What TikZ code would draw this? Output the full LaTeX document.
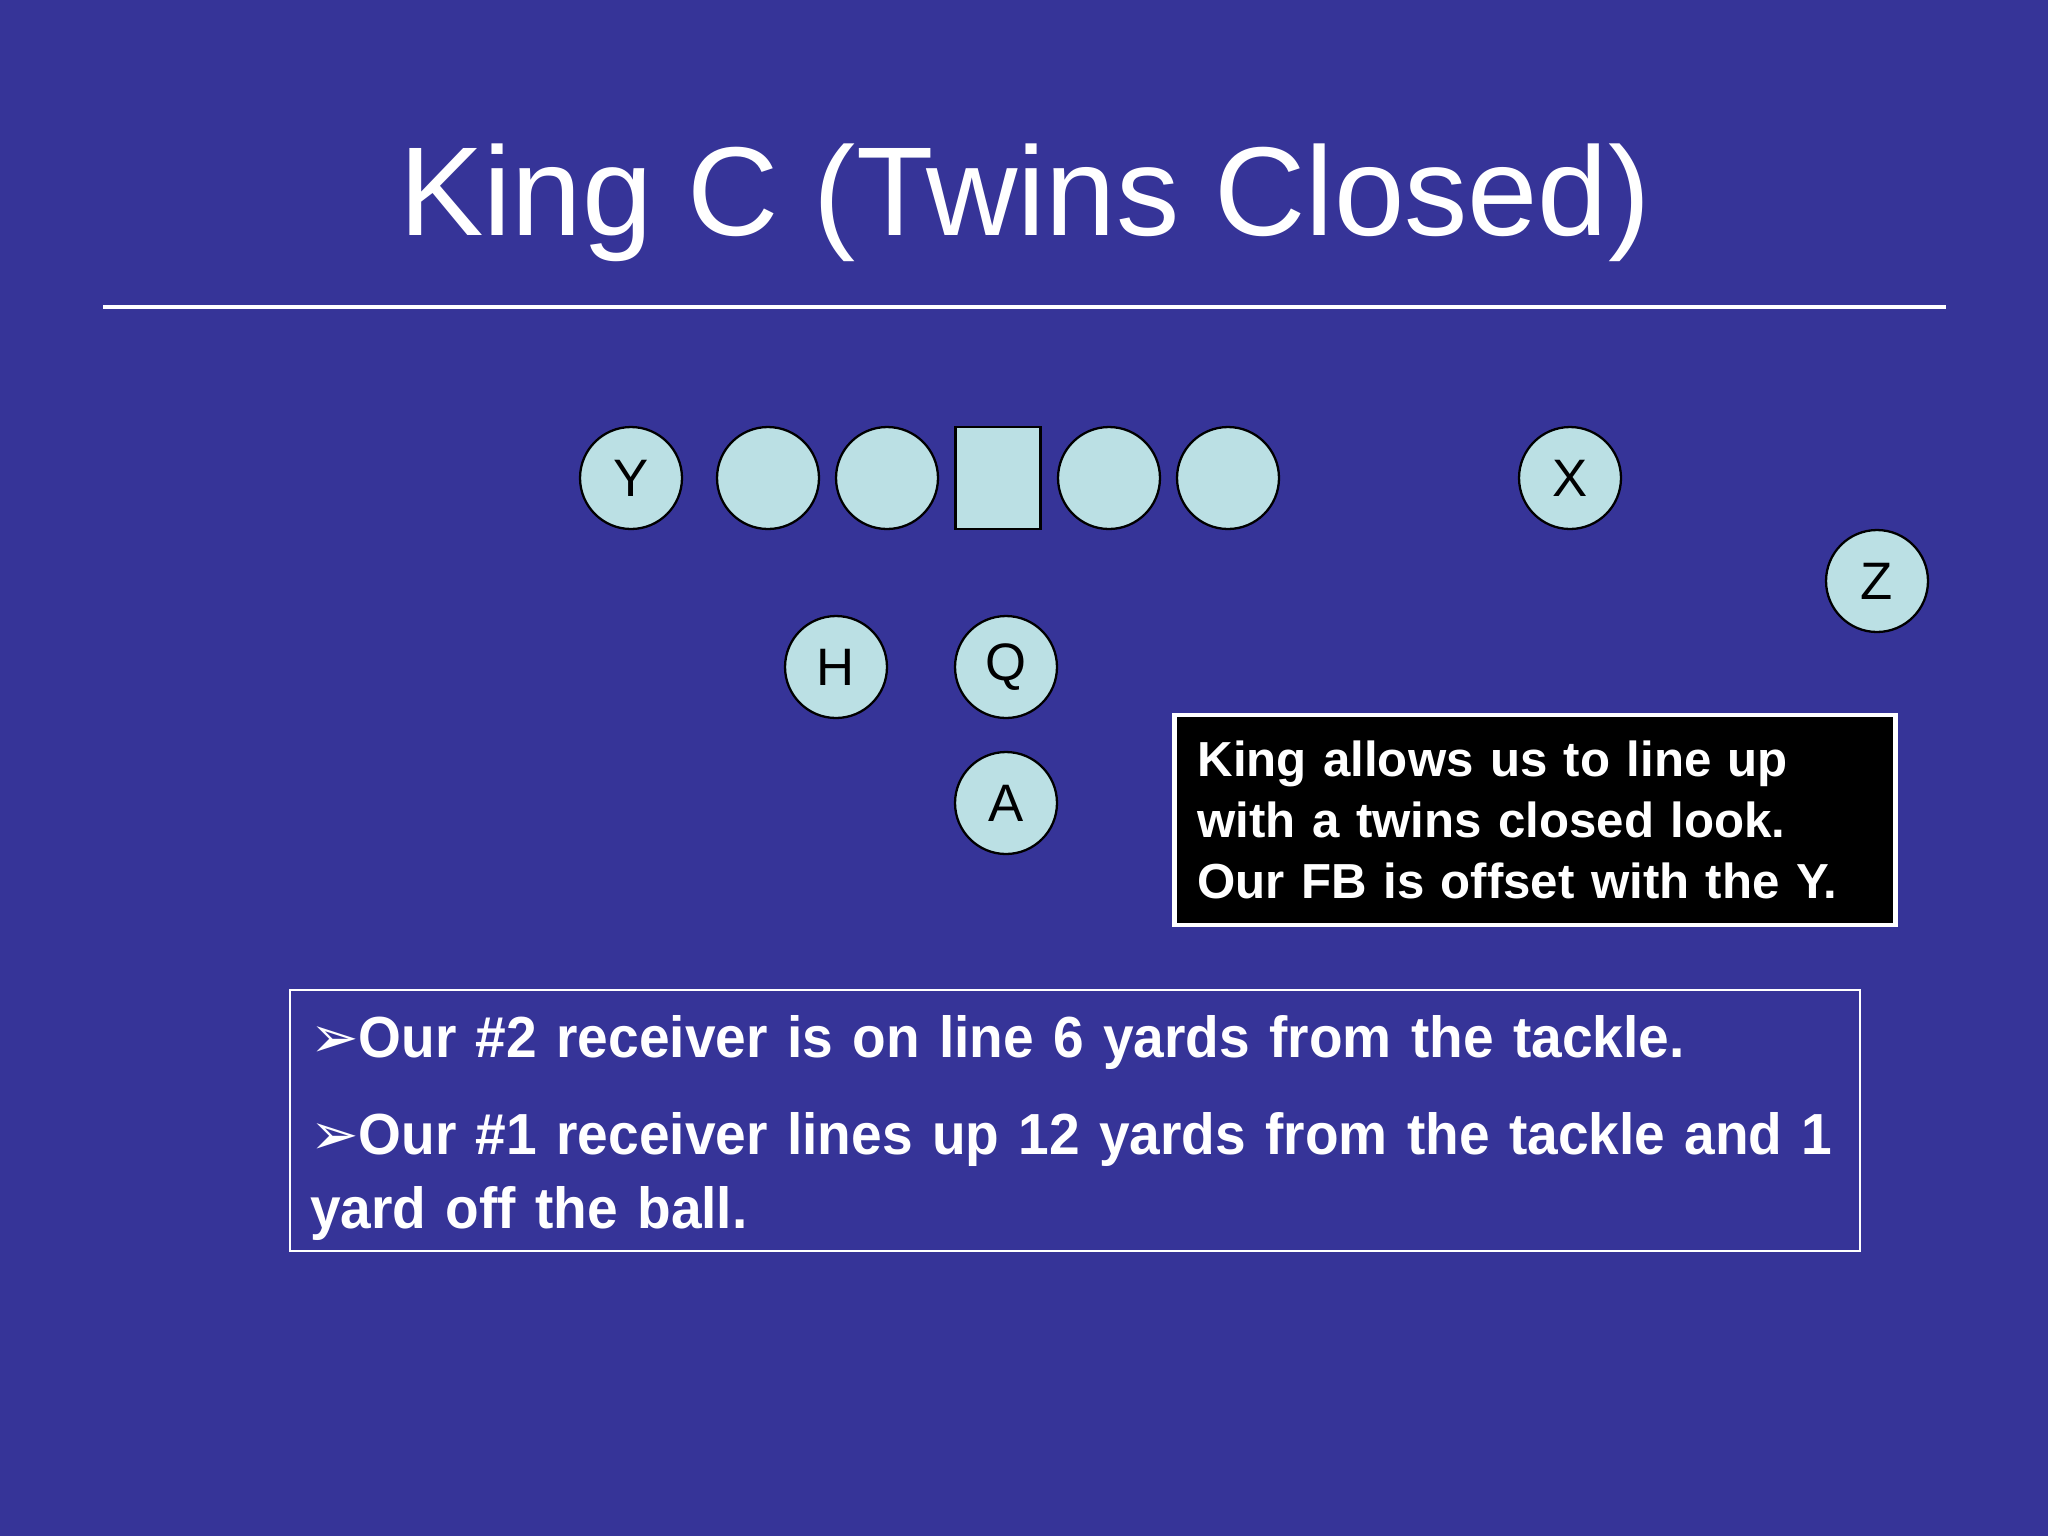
\documentclass[tikz,border=0pt]{standalone}
\usepackage{fontspec}
\setmainfont{Liberation Sans}
\newfontfamily\dingfont{DejaVu Sans}
\newfontfamily\rulefont[FakeStretch=0.95]{Liberation Sans}
\usepackage{tikz}

\definecolor{slideblue}{RGB}{54,52,152}
\definecolor{playerfill}{RGB}{187,224,228}

\tikzset{
  player/.style={circle, draw=black, line width=1.3pt, fill=playerfill,
    minimum size=2.04cm, inner sep=0pt, font=\fontsize{30}{30}\selectfont},
  centerbox/.style={rectangle, draw=black, line width=1.3pt, fill=playerfill,
    minimum width=1.7cm, minimum height=2.04cm, inner sep=0pt},
  notebox/.style={rectangle, draw=white, line width=2.8pt, fill=black,
    text=white, align=left, font=\bfseries\fontsize{28}{34.6}\selectfont,
    inner xsep=0.46cm, text width=13.5cm, minimum height=4.2cm},
  rulebox/.style={rectangle, draw=white, line width=0.8pt, text=white,
    align=left, font=\rulefont\bfseries\fontsize{33}{42}\selectfont,
    inner xsep=0.4cm, text width=30.6cm, minimum height=5.22cm}
}

\begin{document}
\begin{tikzpicture}[x=0.02cm, y=-0.02cm]

% Slide
\fill[slideblue] (0,0) rectangle (2048,1536);
\useasboundingbox (0,0) rectangle (2048,1536);

% Title
\node[anchor=base, text=white, font=\fontsize{72}{72}\selectfont] (title) at (1025,235) {King C (Twins Closed)};
\draw[white, line width=2.8pt] (103,307) -- (1946,307);

% Line of scrimmage
\node[player] (Y) at (631,478) {Y};
\node[player] (LT) at (768,478) {};
\node[player] (LG) at (887,478) {};
\node[centerbox] (C) at (998,478) {};
\node[player] (RG) at (1109,478) {};
\node[player] (RT) at (1228,478) {};
\node[player] (X) at (1570,478) {X};
\node[player] (Z) at (1877,581) {Z};

% Backfield
\node[player] (H) at (836,667) {H};
\node[player] (Q) at (1006,667) {Q};
\node[player] (A) at (1006,803) {A};

% Notes
\node[notebox] (note) at (1535,820) {King allows us to line up\\with a twins closed look.\\Our FB is offset with the Y.};
\draw[white, line width=0.8pt] (290,990) rectangle (1860,1251);
\node[rulebox, draw=none, minimum height=0pt] (rules) at (1075,1128) {{\dingfont\mdseries ➢}Our \#2 receiver is on line 6 yards from the tackle.\\[13pt]\mbox{{\dingfont\mdseries ➢}Our \#1 receiver lines up 12 yards from the tackle and 1}\\yard off the ball.};

\end{tikzpicture}
\end{document}
